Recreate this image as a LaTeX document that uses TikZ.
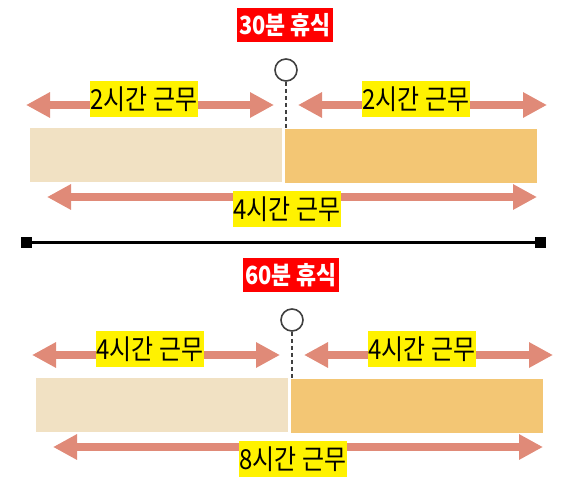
\documentclass[tikz,border=0pt]{standalone}
\usepackage{fontspec}
\newfontfamily\kr{Noto Sans CJK KR}[FakeStretch=0.87]
\usetikzlibrary{arrows.meta}
\definecolor{arrowc}{HTML}{E08A78}
\definecolor{beige}{HTML}{F1E1C3}
\definecolor{orangec}{HTML}{F3C674}
\definecolor{pinc}{HTML}{404040}
\begin{document}
\begin{tikzpicture}[x=1pt,y=-1pt,
  lbl/.style={fill=yellow, text=black, font=\kr\fontsize{27.5}{30}\selectfont, inner xsep=1pt, inner ysep=0pt, minimum height=36pt},
  ttl/.style={fill=red, text=white, font=\kr\bfseries\fontsize{25}{28}\selectfont, inner xsep=2pt, inner ysep=0pt, minimum height=34pt},
  dbl/.style={draw=arrowc, line width=8pt, {Triangle[length=24pt,width=24pt]}-{Triangle[length=24pt,width=24pt]}},
  pin/.style={circle, draw=pinc, line width=1.6pt, fill=white, minimum size=22pt, inner sep=0pt},
  dashline/.style={draw=pinc, line width=1.6pt, dash pattern=on 4pt off 3pt},
  blockA/.style={fill=beige, draw=none},
  blockB/.style={fill=orangec, draw=none},
  sep/.style={draw=black, line width=3pt, {Square[length=11pt,width=11pt]}-{Square[length=11pt,width=11pt]}}
]
\useasboundingbox (0,0) rectangle (577,494);
\foreach \i/\dx/\dy/\tm/\ha/\hb in {1/0/0/30/2/4, 2/6/250/60/4/8}{
  \begin{scope}[shift={(\dx,\dy)}]
    % blocks
    \path[blockA] (30,128) rectangle (282,182);
    \path[blockB] (285,129) rectangle (537,183);
    % title
    \node[ttl] (title\i) at (285,25) {\tm 분 휴식};
    % pin
    \node[pin] (pin\i) at (286,70) {};
    \coordinate (pinend\i) at (286,128);
    \draw[dashline] (pin\i.south) -- (pinend\i);
    % top arrows
    \coordinate (la\i) at (26,105);
    \coordinate (lb\i) at (274,105);
    \coordinate (ra\i) at (298,105);
    \coordinate (rb\i) at (547,105);
    \draw[dbl] (la\i) -- (lb\i);
    \draw[dbl] (ra\i) -- (rb\i);
    \node[lbl] (ll\i) at (144,99) {\ha 시간 근무};
    \node[lbl] (rl\i) at (416,99) {\ha 시간 근무};
    % bottom arrow
    \coordinate (ba\i) at (47,197);
    \coordinate (bb\i) at (537,197);
    \draw[dbl] (ba\i) -- (bb\i);
    \node[lbl] (bl\i) at (287,209) {\hb 시간 근무};
  \end{scope}
}
\coordinate (s1) at (21,242);
\coordinate (s2) at (546,242);
\draw[sep] (s1) -- (s2);
\end{tikzpicture}
\end{document}
